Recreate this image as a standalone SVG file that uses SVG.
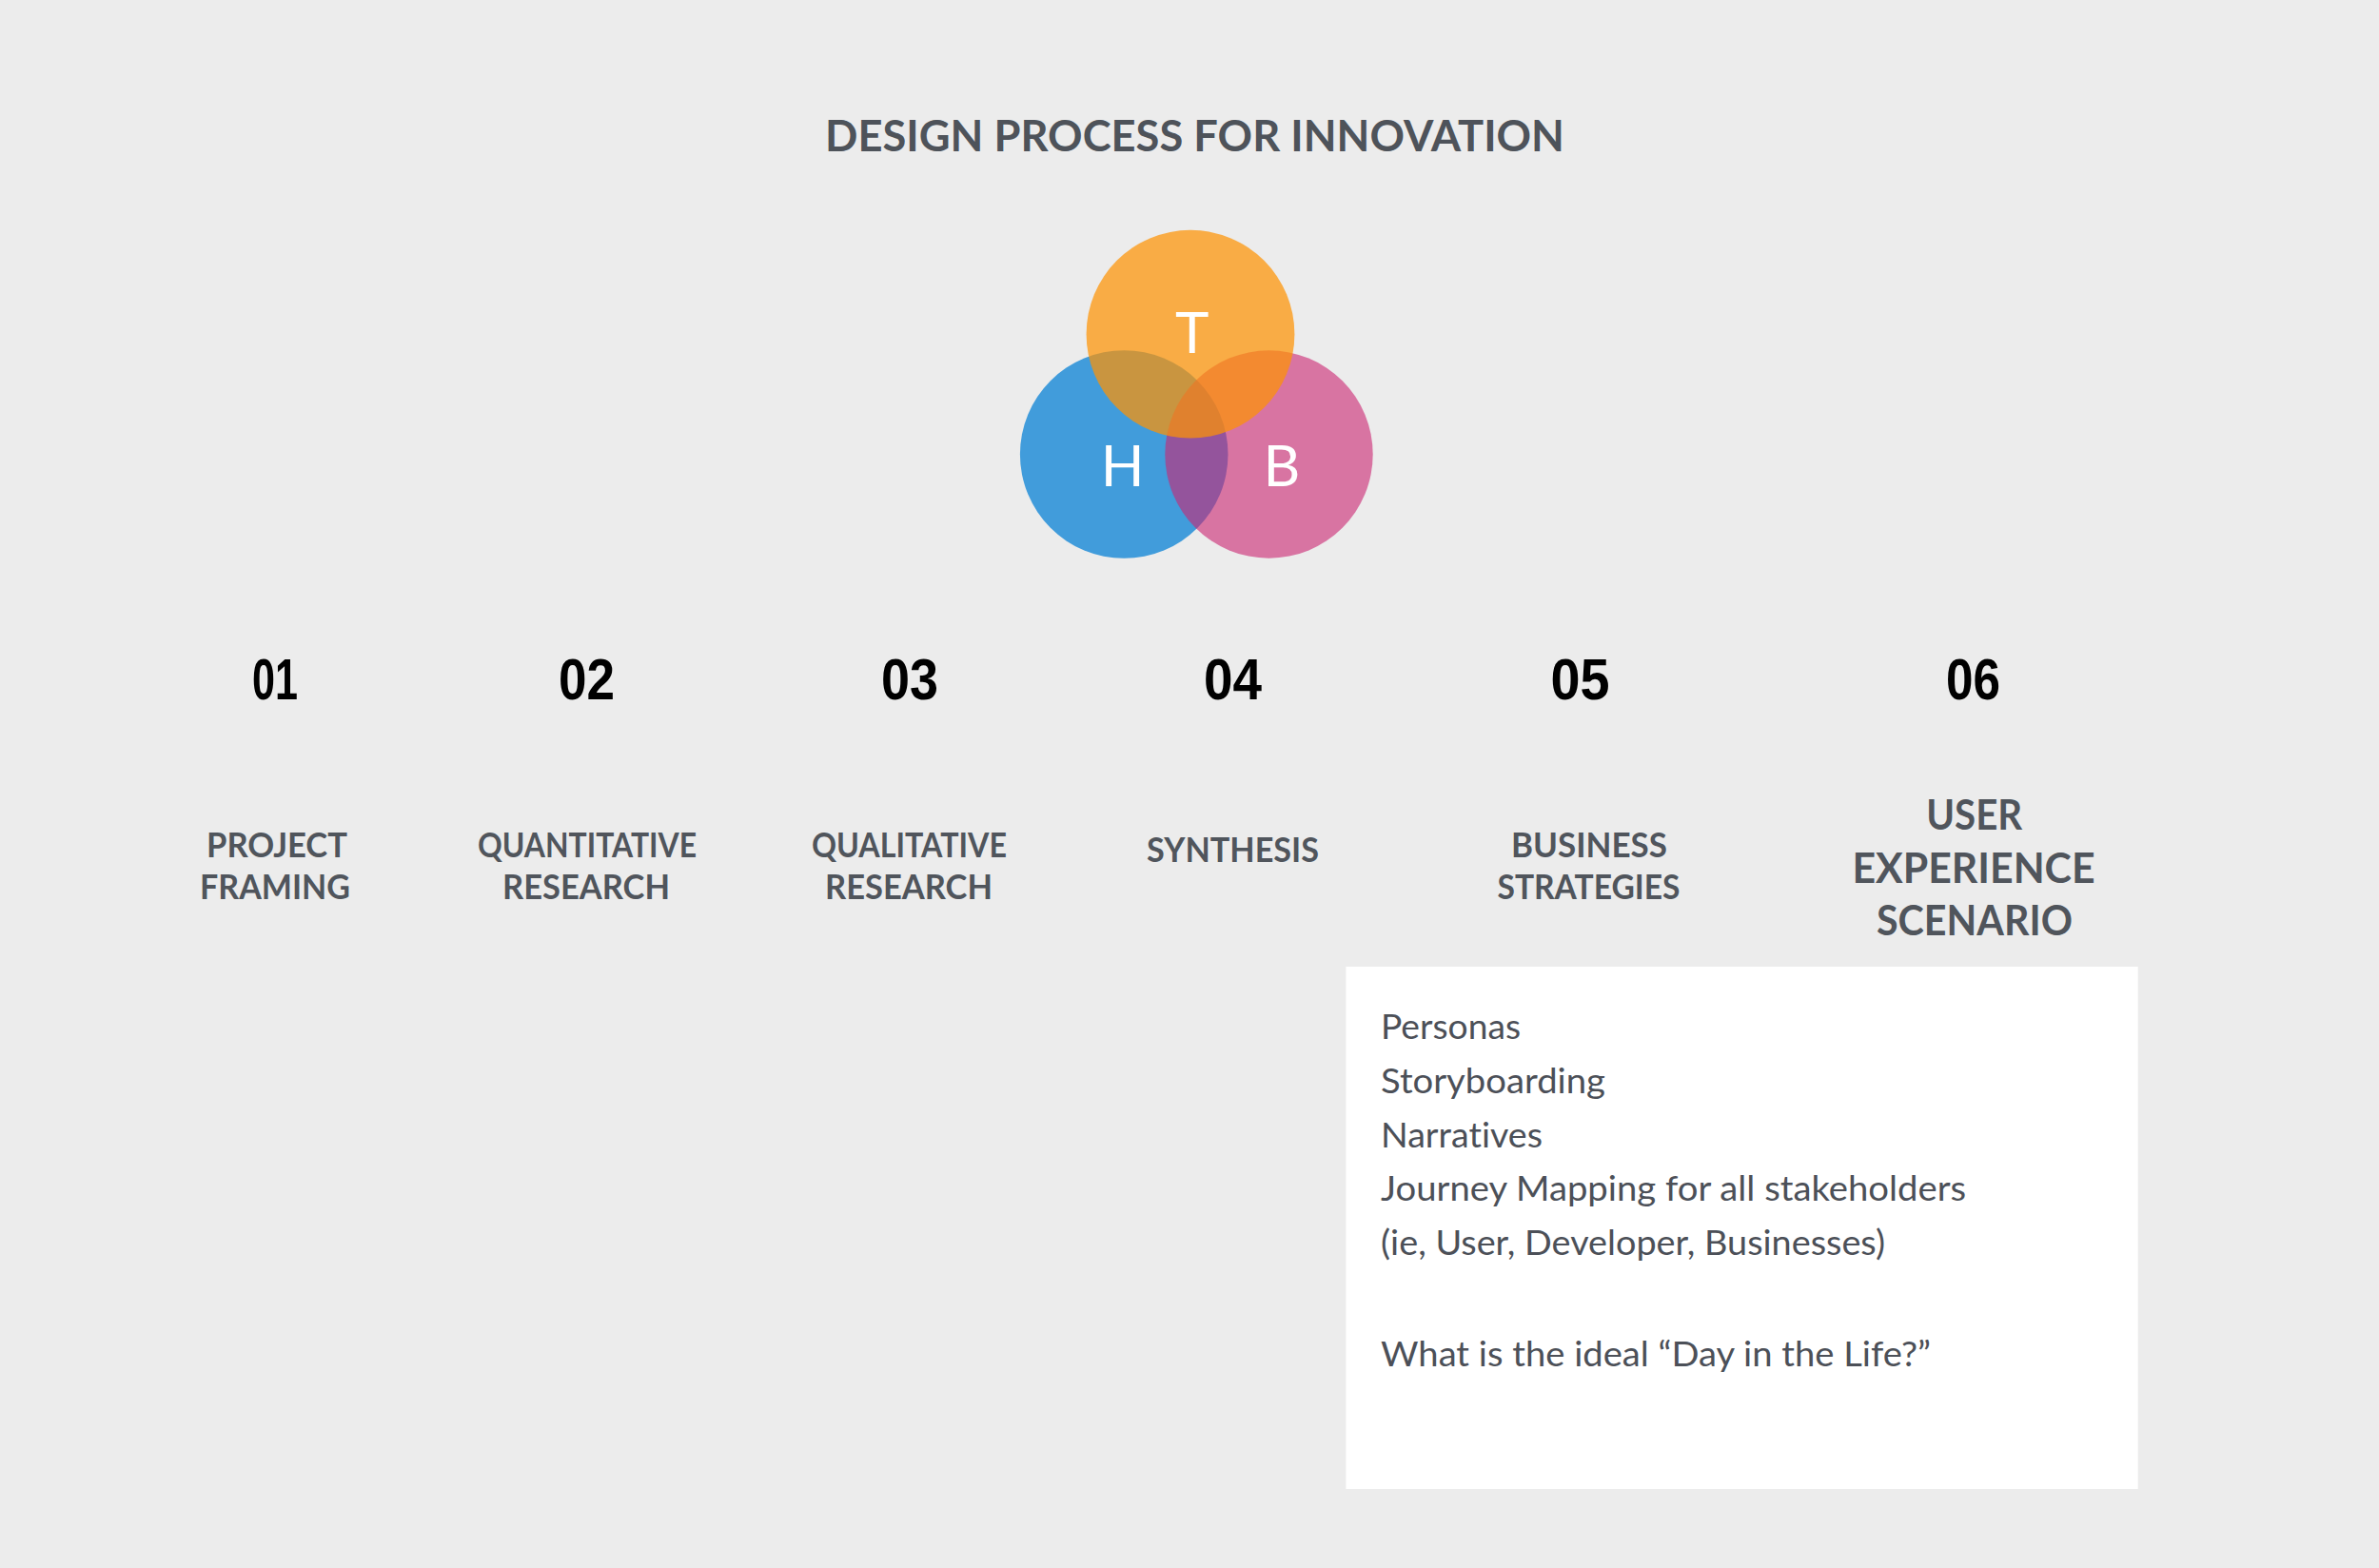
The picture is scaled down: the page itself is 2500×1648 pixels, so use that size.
<svg xmlns="http://www.w3.org/2000/svg" width="2500" height="1648" viewBox="0 0 2500 1648">
  <style>
    text { font-variant-ligatures: none; }
    .title { font-family: Lato, "Liberation Sans", sans-serif; font-weight: 700; font-size: 46px; fill: #4e535a; text-anchor: middle; }
    .num { font-family: "Liberation Sans", Arial, sans-serif; font-weight: 700; font-size: 61px; fill: #000; text-anchor: middle; }
    .lbl { font-family: Lato, "Liberation Sans", sans-serif; font-weight: 700; font-size: 36px; fill: #50555c; text-anchor: middle; }
    .lbl2 { font-family: Lato, "Liberation Sans", sans-serif; font-weight: 700; font-size: 44px; fill: #50555c; text-anchor: middle; }
    .venn { font-family: Lato, "Open Sans", sans-serif; font-weight: 400; font-size: 60px; fill: #ffffff; text-anchor: middle; }
    .body { font-family: Lato, "Liberation Sans", sans-serif; font-weight: 400; font-size: 36px; fill: #4c5058; }
  </style>
  <rect x="0" y="0" width="2500" height="1648" fill="#ececec"/>

  <g id="title">
    <text class="title" x="1255.5" y="159" textLength="777" lengthAdjust="spacingAndGlyphs">DESIGN PROCESS FOR INNOVATION</text>
  </g>

  <g id="venn">
    <g id="circle-h">
      <circle cx="1181.2" cy="477.5" r="109.3" fill="#419cdb"/>
    </g>
    <g id="circle-b">
      <circle cx="1333.5" cy="477.5" r="109.2" fill="#cb2472" fill-opacity="0.6"/>
    </g>
    <g id="circle-t">
      <circle cx="1251" cy="351.2" r="109.4" fill="#fe9304" fill-opacity="0.72"/>
    </g>
    <text class="venn" x="1252.7" y="371">T</text>
    <text class="venn" x="1179.7" y="511">H</text>
    <text class="venn" x="1347" y="511">B</text>
  </g>

  <g id="connectors"></g>

  <g id="step-01">
    <text class="num" x="289" y="735" textLength="48" lengthAdjust="spacingAndGlyphs">01</text>
    <text class="lbl" x="291" y="901" textLength="148" lengthAdjust="spacingAndGlyphs">PROJECT</text>
    <text class="lbl" x="289" y="945" textLength="158" lengthAdjust="spacingAndGlyphs">FRAMING</text>
  </g>

  <g id="step-02">
    <text class="num" x="616.5" y="735" textLength="59" lengthAdjust="spacingAndGlyphs">02</text>
    <text class="lbl" x="617" y="901" textLength="230" lengthAdjust="spacingAndGlyphs">QUANTITATIVE</text>
    <text class="lbl" x="616" y="945" textLength="176" lengthAdjust="spacingAndGlyphs">RESEARCH</text>
  </g>

  <g id="step-03">
    <text class="num" x="956" y="735" textLength="60" lengthAdjust="spacingAndGlyphs">03</text>
    <text class="lbl" x="955.5" y="901" textLength="205" lengthAdjust="spacingAndGlyphs">QUALITATIVE</text>
    <text class="lbl" x="955" y="945" textLength="176" lengthAdjust="spacingAndGlyphs">RESEARCH</text>
  </g>

  <g id="step-04">
    <text class="num" x="1295.5" y="735" textLength="61" lengthAdjust="spacingAndGlyphs">04</text>
    <text class="lbl" x="1295.5" y="906" textLength="181" lengthAdjust="spacingAndGlyphs">SYNTHESIS</text>
  </g>

  <g id="step-05">
    <text class="num" x="1660.6" y="735" textLength="62" lengthAdjust="spacingAndGlyphs">05</text>
    <text class="lbl" x="1670" y="901" textLength="164" lengthAdjust="spacingAndGlyphs">BUSINESS</text>
    <text class="lbl" x="1669.5" y="945" textLength="192" lengthAdjust="spacingAndGlyphs">STRATEGIES</text>
  </g>

  <g id="step-06">
    <text class="num" x="2073.5" y="735" textLength="57" lengthAdjust="spacingAndGlyphs">06</text>
    <text class="lbl2" x="2074.7" y="872" textLength="101" lengthAdjust="spacingAndGlyphs">USER</text>
    <text class="lbl2" x="2074" y="928" textLength="255" lengthAdjust="spacingAndGlyphs">EXPERIENCE</text>
    <text class="lbl2" x="2075" y="983" textLength="206" lengthAdjust="spacingAndGlyphs">SCENARIO</text>
  </g>

  <g id="ux-details">
    <rect x="1414.4" y="1016" width="832.3" height="549" fill="#ffffff"/>
    <text class="body" x="1451" y="1092" textLength="147" lengthAdjust="spacingAndGlyphs">Personas</text>
    <text class="body" x="1451" y="1148.5" textLength="236" lengthAdjust="spacingAndGlyphs">Storyboarding</text>
    <text class="body" x="1451" y="1206" textLength="170" lengthAdjust="spacingAndGlyphs">Narratives</text>
    <text class="body" x="1451" y="1262" textLength="615" lengthAdjust="spacingAndGlyphs">Journey Mapping for all stakeholders</text>
    <text class="body" x="1451" y="1319" textLength="530" lengthAdjust="spacingAndGlyphs">(ie, User, Developer, Businesses)</text>
    <text class="body" x="1451" y="1435.5" textLength="578" lengthAdjust="spacingAndGlyphs">What is the ideal “Day in the Life?”</text>
  </g>
</svg>
